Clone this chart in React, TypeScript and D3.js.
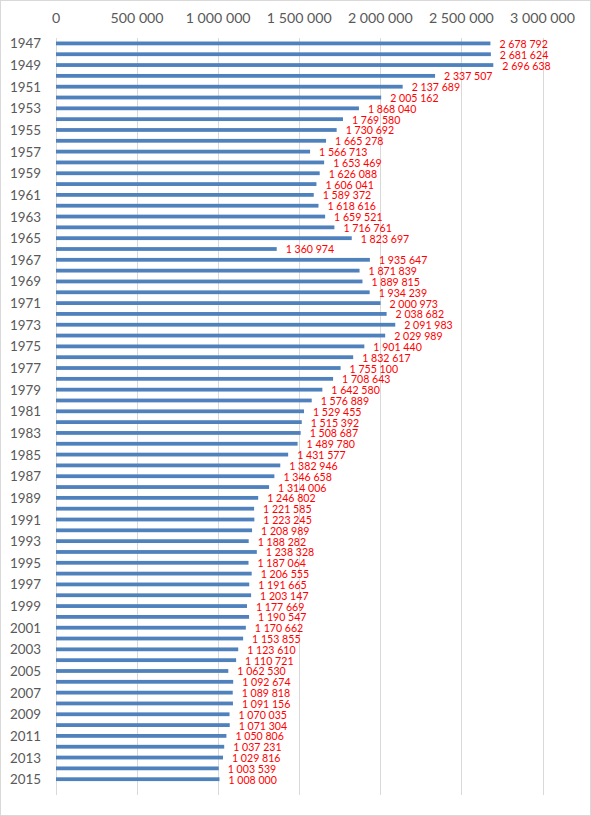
import * as d3 from 'd3';
import React, { Component, RefObject } from 'react';

// births per year, Japan
const years: number[] = d3.range(1947, 2016);

const births: number[] = [
  2678792, 2681624, 2696638, 2337507, 2137689, 2005162, 1868040, 1769580, 1730692, 1665278,
  1566713, 1653469, 1626088, 1606041, 1589372, 1618616, 1659521, 1716761, 1823697, 1360974,
  1935647, 1871839, 1889815, 1934239, 2000973, 2038682, 2091983, 2029989, 1901440, 1832617,
  1755100, 1708643, 1642580, 1576889, 1529455, 1515392, 1508687, 1489780, 1431577, 1382946,
  1346658, 1314006, 1246802, 1221585, 1223245, 1208989, 1188282, 1238328, 1187064, 1206555,
  1191665, 1203147, 1177669, 1190547, 1170662, 1153855, 1123610, 1110721, 1062530, 1092674,
  1089818, 1091156, 1070035, 1071304, 1050806, 1037231, 1029816, 1003539, 1008000,
];

const xTicks: number[] = [0, 500000, 1000000, 1500000, 2000000, 2500000, 3000000];

const width = 591;
const height = 816;
const font = 'Lato, Calibri, sans-serif';

const fmt = (v: number) => d3.format(',')(v).replace(/,/g, ' ');

class App extends Component {
  private ref: RefObject<SVGSVGElement>;

  constructor(props: {}) {
    super(props);
    this.ref = React.createRef();
  }

  componentDidMount(): void {
    this.renderChart();
  }

  renderChart = (): void => {
    const svg = d3.select(this.ref.current);
    svg.selectAll('*').remove();

    const x = d3.scaleLinear().domain([0, 3000000]).range([56, 542.5]);
    const y = d3
      .scaleBand<string>()
      .domain(years.map(String))
      .range([38, 784.6])
      .paddingInner(0.65)
      .paddingOuter(0.325);

    // chart border
    svg
      .append('rect')
      .attr('x', 0.5)
      .attr('y', 0.5)
      .attr('width', width - 1)
      .attr('height', height - 1)
      .attr('fill', '#fff')
      .attr('stroke', '#d9d9d9');

    // gridlines
    svg
      .append('g')
      .selectAll('line')
      .data(xTicks)
      .enter()
      .append('line')
      .attr('x1', (d) => Math.round(x(d)) + 0.5)
      .attr('x2', (d) => Math.round(x(d)) + 0.5)
      .attr('y1', 38)
      .attr('y2', 795)
      .attr('stroke', '#d9d9d9')
      .attr('stroke-width', 1);

    // top axis labels
    svg
      .append('g')
      .selectAll('text')
      .data(xTicks)
      .enter()
      .append('text')
      .attr('x', (d) => x(d))
      .attr('y', 17.5)
      .attr('text-anchor', 'middle')
      .attr('dominant-baseline', 'central')
      .attr('font-family', font)
      .attr('font-size', 14.2)
      .attr('fill', '#595959')
      .text((d) => fmt(d));

    // bars
    svg
      .append('g')
      .selectAll('rect')
      .data(births)
      .enter()
      .append('rect')
      .attr('x', x(0))
      .attr('y', (d, i) => y(String(years[i])) as number)
      .attr('width', (d) => x(d) - x(0))
      .attr('height', y.bandwidth())
      .attr('fill', '#4f81bd');

    // year labels, every other
    svg
      .append('g')
      .selectAll('text')
      .data(years.filter((d, i) => i % 2 === 0))
      .enter()
      .append('text')
      .attr('x', 41)
      .attr('y', (d) => (y(String(d)) as number) + y.bandwidth() / 2)
      .attr('text-anchor', 'end')
      .attr('dominant-baseline', 'central')
      .attr('font-family', font)
      .attr('font-size', 13.4)
      .attr('fill', '#595959')
      .text((d) => d);

    // data labels
    svg
      .append('g')
      .selectAll('text')
      .data(births)
      .enter()
      .append('text')
      .attr('x', (d) => x(d) + 9)
      .attr('y', (d, i) => (y(String(years[i])) as number) + y.bandwidth() / 2 + 0.5)
      .attr('dominant-baseline', 'central')
      .attr('font-family', font)
      .attr('font-size', 10.6)
      .attr('fill', '#ff0000')
      .text((d) => fmt(d));
  };

  render(): JSX.Element {
    return (
      <svg
        ref={this.ref}
        width={width}
        height={height}
        viewBox={`0 0 ${width} ${height}`}
        style={{ position: 'absolute', left: 0, top: 0 }}
      ></svg>
    );
  }
}

export default App;
